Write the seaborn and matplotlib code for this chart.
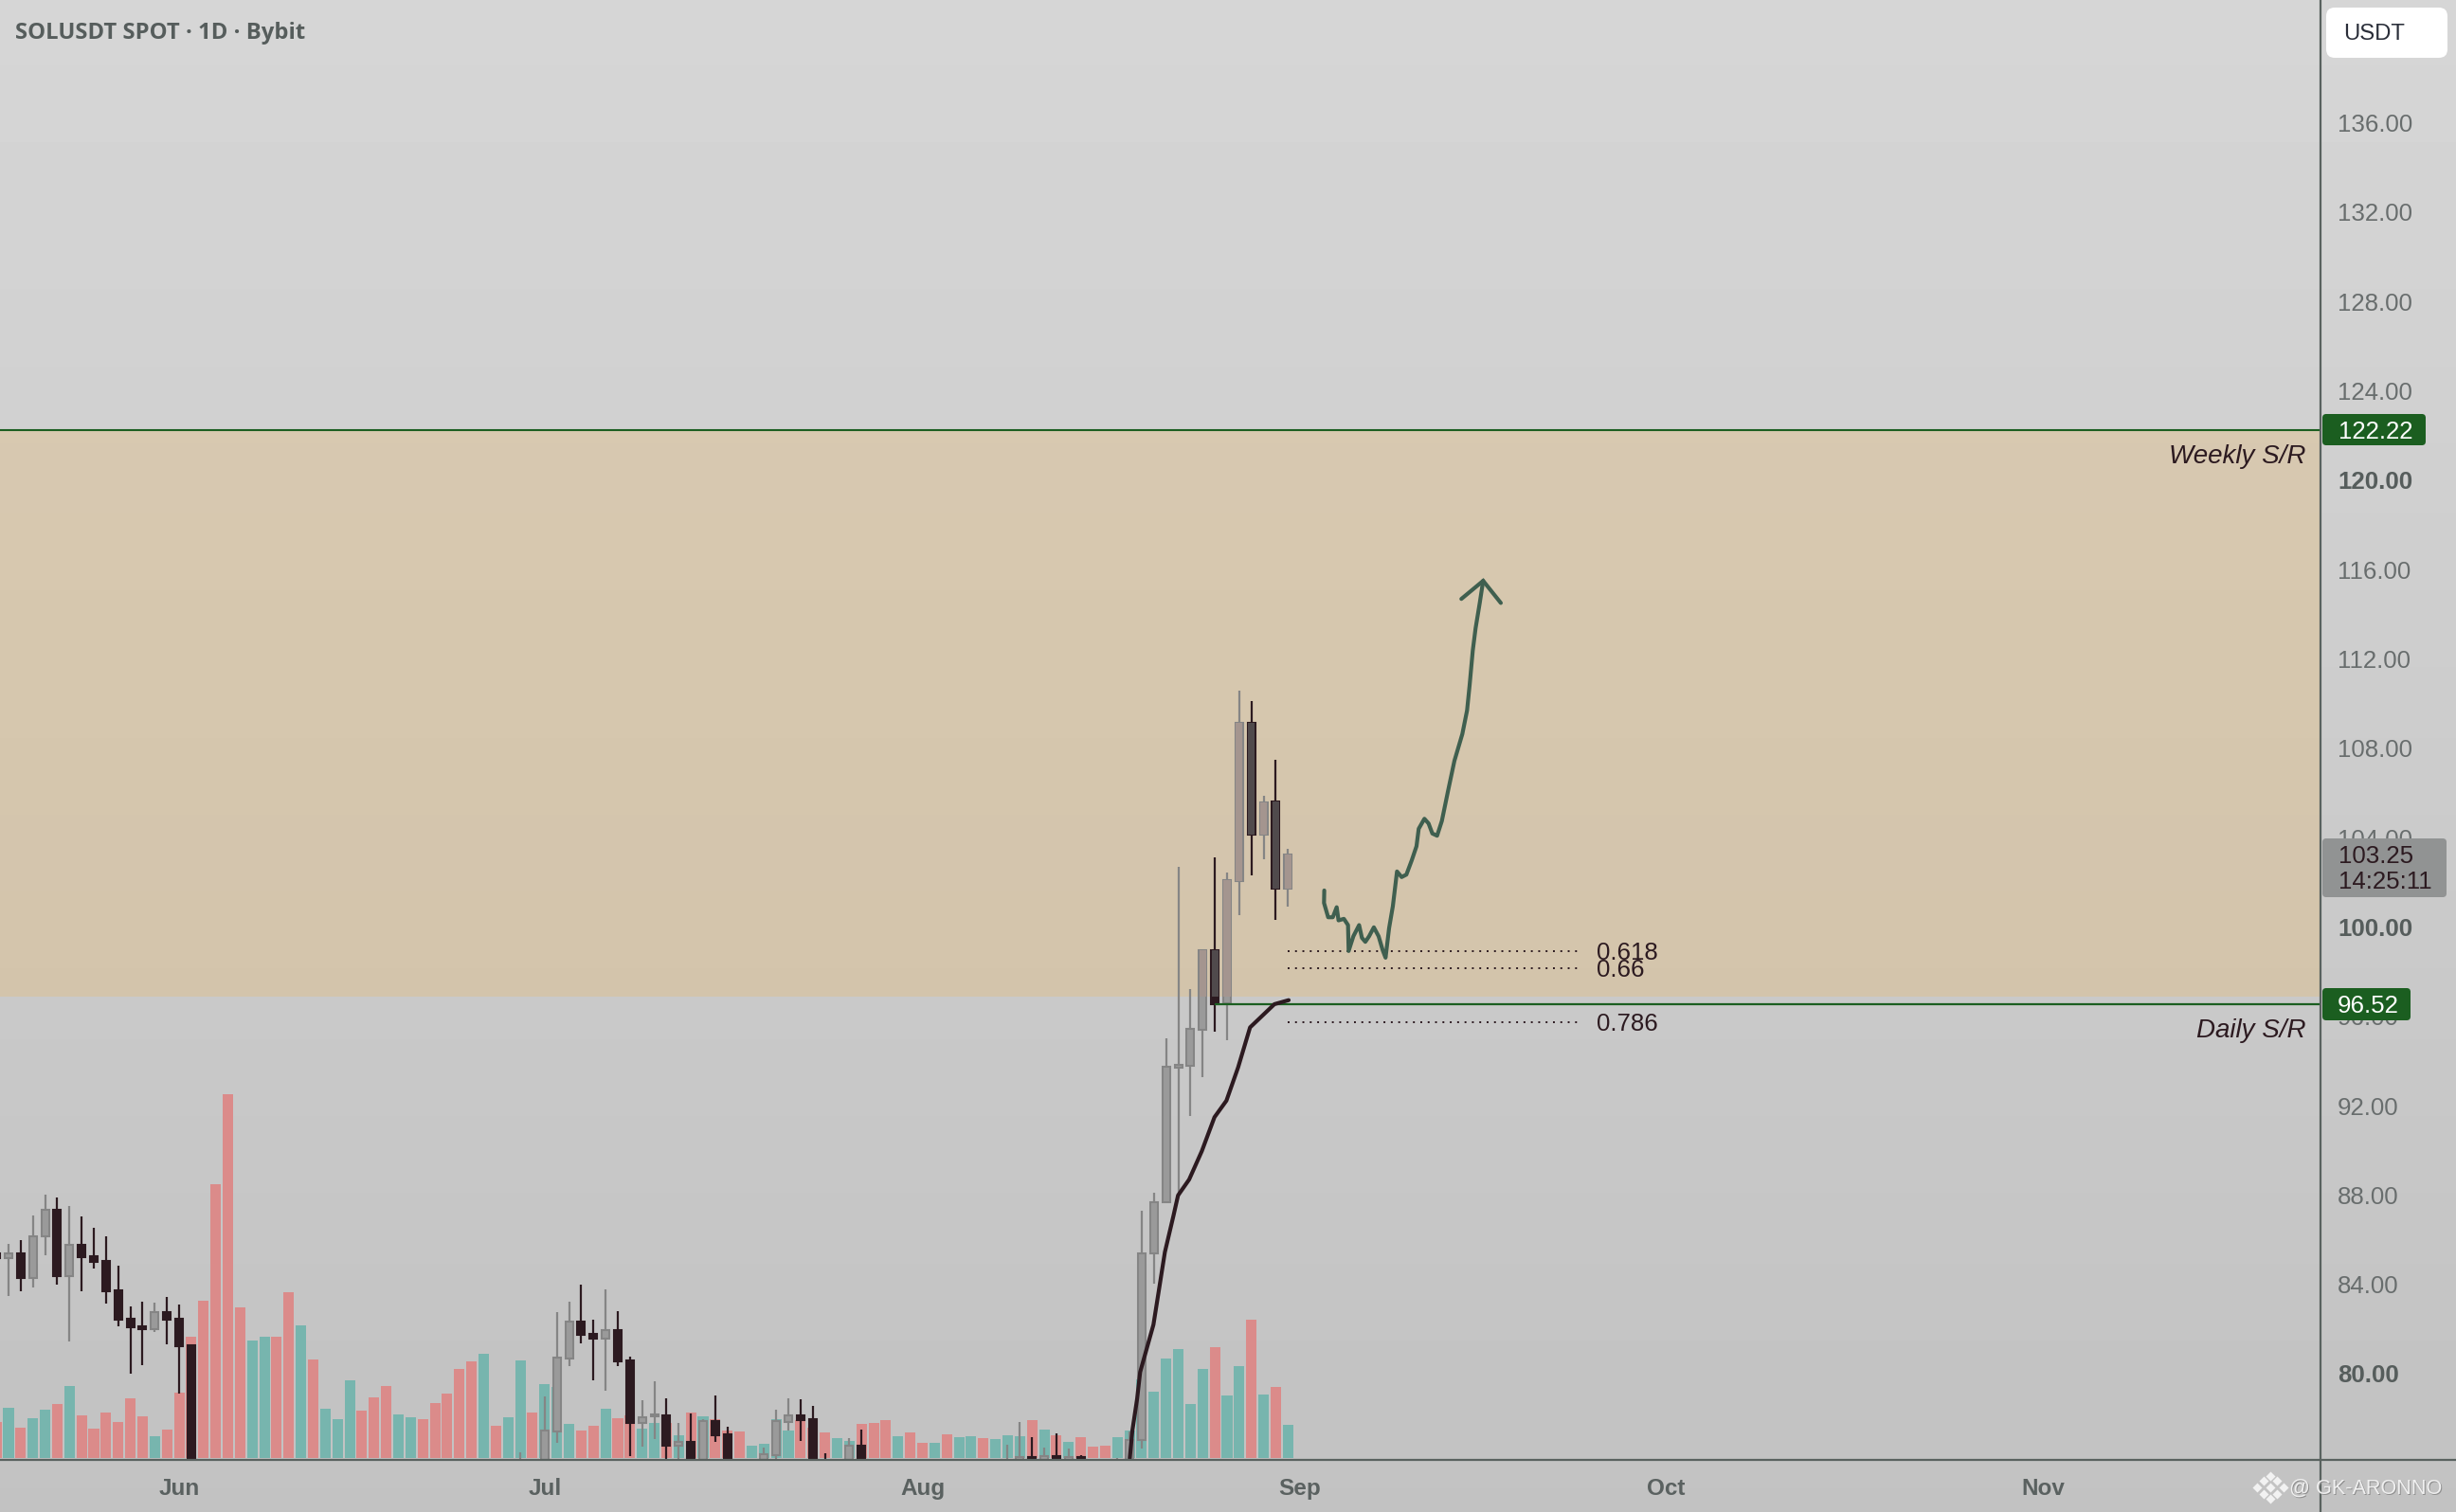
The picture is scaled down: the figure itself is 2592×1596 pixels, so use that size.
import numpy as np
import matplotlib
matplotlib.use('Agg')
import matplotlib.pyplot as plt
from matplotlib.patches import FancyBboxPatch
import seaborn as sns

# x axis is days counted from 1 June
month_days = [0, 30, 61, 92, 122, 153]
month_labels = ['Jun', 'Jul', 'Aug', 'Sep', 'Oct', 'Nov']
price_ticks = [80, 84, 88, 92, 96, 100, 104, 108, 112, 116, 120, 124, 128, 132, 136]
bold_ticks = [80, 100, 120]

vol_days = list(range(-15, 92))
volumes = [114, 159, 96, 126, 153, 171, 228, 135, 93, 144, 114, 189, 132, 69, 90,
           207, 384, 498, 867, 1152, 477, 372, 384, 384, 525, 420, 312, 156, 123, 246,
           150, 192, 228, 138, 129, 123, 174, 204, 282, 306,
           330, 102, 129, 309, 144, 234, 225, 108, 87, 102, 156, 126, 135, 93, 111, 110,
           72, 144, 132, 123, 87, 84, 39, 45, 123, 87, 120, 97, 81, 63, 54, 108, 111, 120,
           69, 81, 48, 48, 75,
           66, 69, 63, 60, 72, 69, 120, 90, 72, 51, 66, 36, 39, 66, 87, 249, 210, 315, 345,
           171, 282, 351, 198, 291, 438, 201, 225, 105]
vol_dir = list('duduududdddddud'
               'dddddduudduduuuddduuddddd'
               'uduuduuudd'
               'udduududud'
               'dduuuudddu'
               'uddduddud'
               'uuduuudududdd'
               'uuuuuuuuduududu')

candle_day = [-15, -14, -13, -12, -11, -10, -9, -8, -7, -6, -5, -4, -3, -2, -1, 0, 1,
              28, 30, 31, 32, 33, 34, 35, 36, 37, 38, 39, 40, 41, 42, 43, 44, 45,
              48, 49, 50, 51, 52, 53, 55, 56,
              68, 69, 70, 71, 72, 73, 74, 77, 78, 79, 80, 81, 82, 83, 84, 85, 86, 87, 88, 89, 90, 91]
candle_open = [85.37, 85.19, 85.37, 84.29, 86.13, 87.32, 84.38, 85.75, 85.24, 85.03, 83.71, 82.44, 82.12, 82.00, 82.74, 82.44, 81.27,
               75.00, 75.50, 77.43, 80.69, 82.32, 81.78, 81.57, 81.94, 80.59, 77.79, 78.09, 78.13, 76.78, 76.95, 75.50, 77.88, 77.28,
               75.50, 76.35, 77.84, 78.13, 77.96, 75.90, 75.50, 76.78,
               75.50, 75.50, 76.27, 75.50, 76.31, 75.50, 76.27, 75.50, 75.50, 77.03, 85.37, 87.66, 93.71, 93.79, 95.41, 98.96, 96.57, 102.06, 109.12, 104.15, 105.62, 101.73]
candle_close = [85.17, 85.37, 84.29, 86.13, 87.32, 84.38, 85.75, 85.23, 85.02, 83.70, 82.43, 82.09, 82.00, 82.74, 82.43, 81.24, 74.50,
                75.90, 77.45, 80.71, 82.32, 81.74, 81.57, 81.94, 80.55, 77.79, 78.05, 78.18, 76.78, 76.95, 75.50, 77.88, 77.24, 75.50,
                76.39, 77.88, 78.13, 77.92, 75.50, 75.50, 76.78, 75.50,
                75.90, 76.27, 75.50, 76.31, 75.50, 76.27, 75.50, 75.90, 77.03, 85.37, 87.66, 93.72, 93.82, 95.43, 98.95, 96.54, 102.08, 109.12, 104.15, 105.59, 101.73, 103.23]
candle_high = [86.53, 85.79, 85.96, 87.08, 88.00, 87.89, 87.50, 87.04, 86.53, 86.15, 84.83, 82.99, 83.22, 83.18, 83.43, 83.09, 81.31,
               76.48, 78.98, 82.76, 83.22, 83.99, 82.42, 83.77, 82.80, 80.76, 78.81, 79.66, 78.90, 77.79, 78.22, 77.96, 79.02, 77.62,
               76.69, 78.39, 78.90, 78.85, 78.56, 76.44, 77.12, 77.50,
               76.82, 77.84, 77.16, 76.69, 77.33, 76.65, 76.35, 76.22, 77.41, 87.29, 88.10, 95.01, 102.69, 97.22, 99.00, 103.12, 102.44, 110.58, 110.11, 105.87, 107.48, 103.50]
candle_low = [85.17, 83.49, 83.69, 83.86, 85.30, 83.98, 81.44, 83.69, 84.70, 83.14, 82.12, 80.00, 80.38, 81.86, 81.31, 79.11, 74.00,
              75.00, 75.00, 76.90, 80.34, 81.36, 79.70, 79.24, 80.34, 76.31, 76.73, 77.07, 75.00, 75.00, 75.00, 75.00, 76.95, 75.00,
              75.00, 75.00, 77.45, 76.99, 75.00, 75.00, 75.00, 75.00,
              75.00, 75.00, 75.00, 75.00, 75.00, 75.00, 75.00, 75.00, 75.00, 76.65, 84.03, 87.63, 87.91, 91.53, 93.27, 95.31, 94.92, 100.53, 102.31, 103.03, 100.32, 100.91]

ma_day = [78.02, 78.23, 78.62, 78.87, 79.96, 80.43, 80.90, 81.60, 81.98, 82.89, 83.93, 84.97, 85.95, 86.91, 87.89, 89.89, 91.06]
ma_price = [76.21, 77.45, 78.87, 80.07, 82.19, 83.81, 85.44, 87.06, 87.98, 88.69, 89.96, 91.48, 92.22, 93.71, 95.50, 96.54, 96.72]

path_day = [93.98, 93.96, 94.30, 94.68, 95.00, 95.15, 95.59, 95.93, 95.98, 96.37, 96.84, 97.07, 97.35, 97.66, 98.05, 98.44,
            98.78, 99.01, 99.30, 99.61, 99.95, 100.33, 100.72, 101.16, 101.55, 101.73, 102.20, 102.54, 102.85, 103.24,
            103.63, 104.14, 104.66, 105.31, 105.70, 105.91, 106.17, 106.40, 106.74, 107.02]
path_price = [101.63, 101.07, 100.43, 100.43, 100.88, 100.29, 100.36, 100.08, 98.92, 99.58, 100.08, 99.51, 99.33, 99.58, 99.98, 99.58,
              98.95, 98.62, 99.94, 100.93, 102.48, 102.23, 102.34, 102.98, 103.61, 104.39, 104.84, 104.63, 104.18, 104.08,
              104.74, 106.09, 107.43, 108.63, 109.69, 110.82, 112.38, 113.37, 114.50, 115.49]
head_day = [105.23, 107.02, 108.47]
head_price = [114.68, 115.49, 114.50]

weekly_level = 122.22
daily_level = 96.52
band_bottom = 96.88
fib_levels = [98.91, 98.16, 95.75]
fib_labels = ['0.618', '0.66', '0.786']

W, H = 2592, 1596
AX_R, AX_B = 2449, 1541
DARK = '#2c1a20'
GREEN = '#1b5e20'
CHROME = '#59625f'

sns.set_theme(style='white')
plt.rcParams['font.family'] = ['Liberation Sans', 'DejaVu Sans']

fig = plt.figure(figsize=(W / 100, H / 100), dpi=100)

# soft grey background, lighter at the top
bg = fig.add_axes([0, 0, 1, 1], zorder=0)
bg.imshow(np.linspace(214, 194, 256).reshape(-1, 1), cmap='gray', vmin=0, vmax=255, aspect='auto')
bg.axis('off')

rect = [0, (H - AX_B) / H, AX_R / W, AX_B / H]
xlim = (-14.70, 175.74)
ylim = (76.14, 141.49)

# sand zone goes underneath the volume
band_ax = fig.add_axes(rect, zorder=1)
band_ax.set_xlim(xlim)
band_ax.set_ylim(ylim)
band_ax.axis('off')
band_ax.axhspan(band_bottom, weekly_level, color='#e4be80', alpha=0.4, lw=0)

ax_vol = fig.add_axes(rect, zorder=2)
ax = fig.add_axes(rect, zorder=3)
ax.patch.set_visible(False)

sns.barplot(x=vol_days, y=volumes, hue=vol_dir, palette={'u': '#77b5ae', 'd': '#db8b8a'},
            native_scale=True, dodge=False, width=0.86, saturation=1, linewidth=0,
            legend=False, ax=ax_vol)
ax_vol.set_xlim(xlim)
ax_vol.set_ylim(-6, -6 + AX_B * 3)
ax_vol.axis('off')

# candles
days = np.array(candle_day)
opens = np.array(candle_open)
closes = np.array(candle_close)
highs = np.array(candle_high)
lows = np.array(candle_low)
up = closes >= opens
tops = np.maximum(opens, closes)
bots = np.minimum(opens, closes)

for mask, edge, face, zone_face in [(up, '#858585', '#9a9a9a', '#a4958f'), (~up, DARK, DARK, '#504a4c')]:
    ax.vlines(days[mask], lows[mask], highs[mask], color=edge, lw=1.6, zorder=3)
    ax.bar(days[mask], np.maximum(tops[mask] - bots[mask], 0.02), bottom=bots[mask], width=0.62,
           facecolor=face, edgecolor=edge, linewidth=1.5, zorder=4)
    in_zone = tops[mask] > band_bottom
    low_edge = np.maximum(bots[mask], band_bottom)
    ax.bar(days[mask][in_zone], (tops[mask] - low_edge)[in_zone], bottom=low_edge[in_zone], width=0.56,
           facecolor=zone_face, edgecolor='none', zorder=5)

# support and resistance lines
ax.axhline(weekly_level, color=GREEN, lw=1.5, zorder=6)
ax.hlines(daily_level, 84.97, xlim[1], color=GREEN, lw=1.6, zorder=6)
ax.hlines(fib_levels, 91, 114.95, color=DARK, lw=1.4, linestyles=[(0, (1, 3))], zorder=6)

sns.lineplot(x=ma_day, y=ma_price, sort=False, estimator=None, color=DARK, lw=3, ax=ax, zorder=7,
             solid_capstyle='round', solid_joinstyle='round')
sns.lineplot(x=path_day, y=path_price, sort=False, estimator=None, color='#3f5f4f', lw=3, ax=ax, zorder=7,
             solid_capstyle='round', solid_joinstyle='round')
sns.lineplot(x=head_day, y=head_price, sort=False, estimator=None, color='#3f5f4f', lw=3, ax=ax, zorder=7,
             solid_capstyle='round', solid_joinstyle='miter')

ax.set_xlim(xlim)
ax.set_ylim(ylim)
ax.set_xlabel('')
ax.set_ylabel('')
for s in ax.spines.values():
    s.set_visible(False)

ax.set_xticks(month_days, month_labels, fontsize=17.5, fontweight='bold', color='#5a6160')
ax.tick_params(axis='x', length=0, pad=14)
ax.yaxis.tick_right()
ax.set_yticks(price_ticks, [f'{p:.2f}' for p in price_ticks], fontsize=18.6, color='#686d6d')
ax.tick_params(axis='y', length=0, pad=13)
for lab, p in zip(ax.get_yticklabels(), price_ticks):
    if p in bold_ticks:
        lab.set_fontweight('bold')
        lab.set_color('#565d5c')

# everything below is placed in picture pixels
top = fig.add_axes([0, 0, 1, 1], zorder=5)
top.set_xlim(0, W)
top.set_ylim(H, 0)
top.axis('off')
top.plot([0, W], [AX_B, AX_B], color=CHROME, lw=1.6)
top.plot([AX_R, AX_R], [0, H], color=CHROME, lw=1.6)

top.text(16, 35, 'SOLUSDT SPOT · 1D · Bybit', family='Open Sans', fontweight='bold', fontsize=17.2,
         color='#565d5c', va='center')
top.text(2433, 482, 'Weekly S/R', style='italic', fontsize=20, color=DARK, ha='right', va='center')
top.text(2433, 1088, 'Daily S/R', style='italic', fontsize=20, color=DARK, ha='right', va='center')
for label, lev in zip(fib_labels, fib_levels):
    y = 1450 - (lev - 80) * 23.58 + 2
    top.text(1685, y, label, fontsize=18.6, color=DARK, va='center')


def tag(x0, y0, x1, y1, color, radius=4, ec='none'):
    top.add_patch(FancyBboxPatch((x0 + radius, y0 + radius), x1 - x0 - 2 * radius, y1 - y0 - 2 * radius,
                                 boxstyle=f'round,pad={radius},rounding_size={radius}',
                                 fc=color, ec=ec, lw=0, zorder=3))


tag(2451, 437, 2560, 470, GREEN)
top.text(2468, 456, '122.22', fontsize=18.6, color='white', va='center', zorder=4)
tag(2451, 1043, 2544, 1077, GREEN)
top.text(2467, 1062, '96.52', fontsize=18.6, color='white', va='center', zorder=4)
tag(2451, 885, 2582, 947, '#919393')
top.text(2468, 904, '103.25', fontsize=18.6, color=DARK, va='center', zorder=4)
top.text(2468, 931, '14:25:11', fontsize=18.6, color=DARK, va='center', zorder=4)
tag(2455, 8, 2583, 61, '#ffffff', radius=9)
top.text(2506, 36, 'USDT', fontsize=17.2, color='#2a2e39', ha='center', va='center', zorder=4)

# watermark with small diamond logo
logo_x = [2396, 2396, 2382, 2410, 2396, 2389, 2403, 2389, 2403]
logo_y = [1558, 1582, 1570, 1570, 1570, 1563, 1563, 1577, 1577]
top.scatter(logo_x, logo_y, marker='D', s=26, color='#f2f2f2', lw=0, zorder=4)
top.text(2417, 1572.5, '@ GK-ARONNO', fontsize=15.6, color='#8f8f8f', va='center', zorder=3)
top.text(2416, 1571, '@ GK-ARONNO', fontsize=15.6, color='#f0f0f0', va='center', zorder=4)

fig.savefig('out.png', dpi=100)
